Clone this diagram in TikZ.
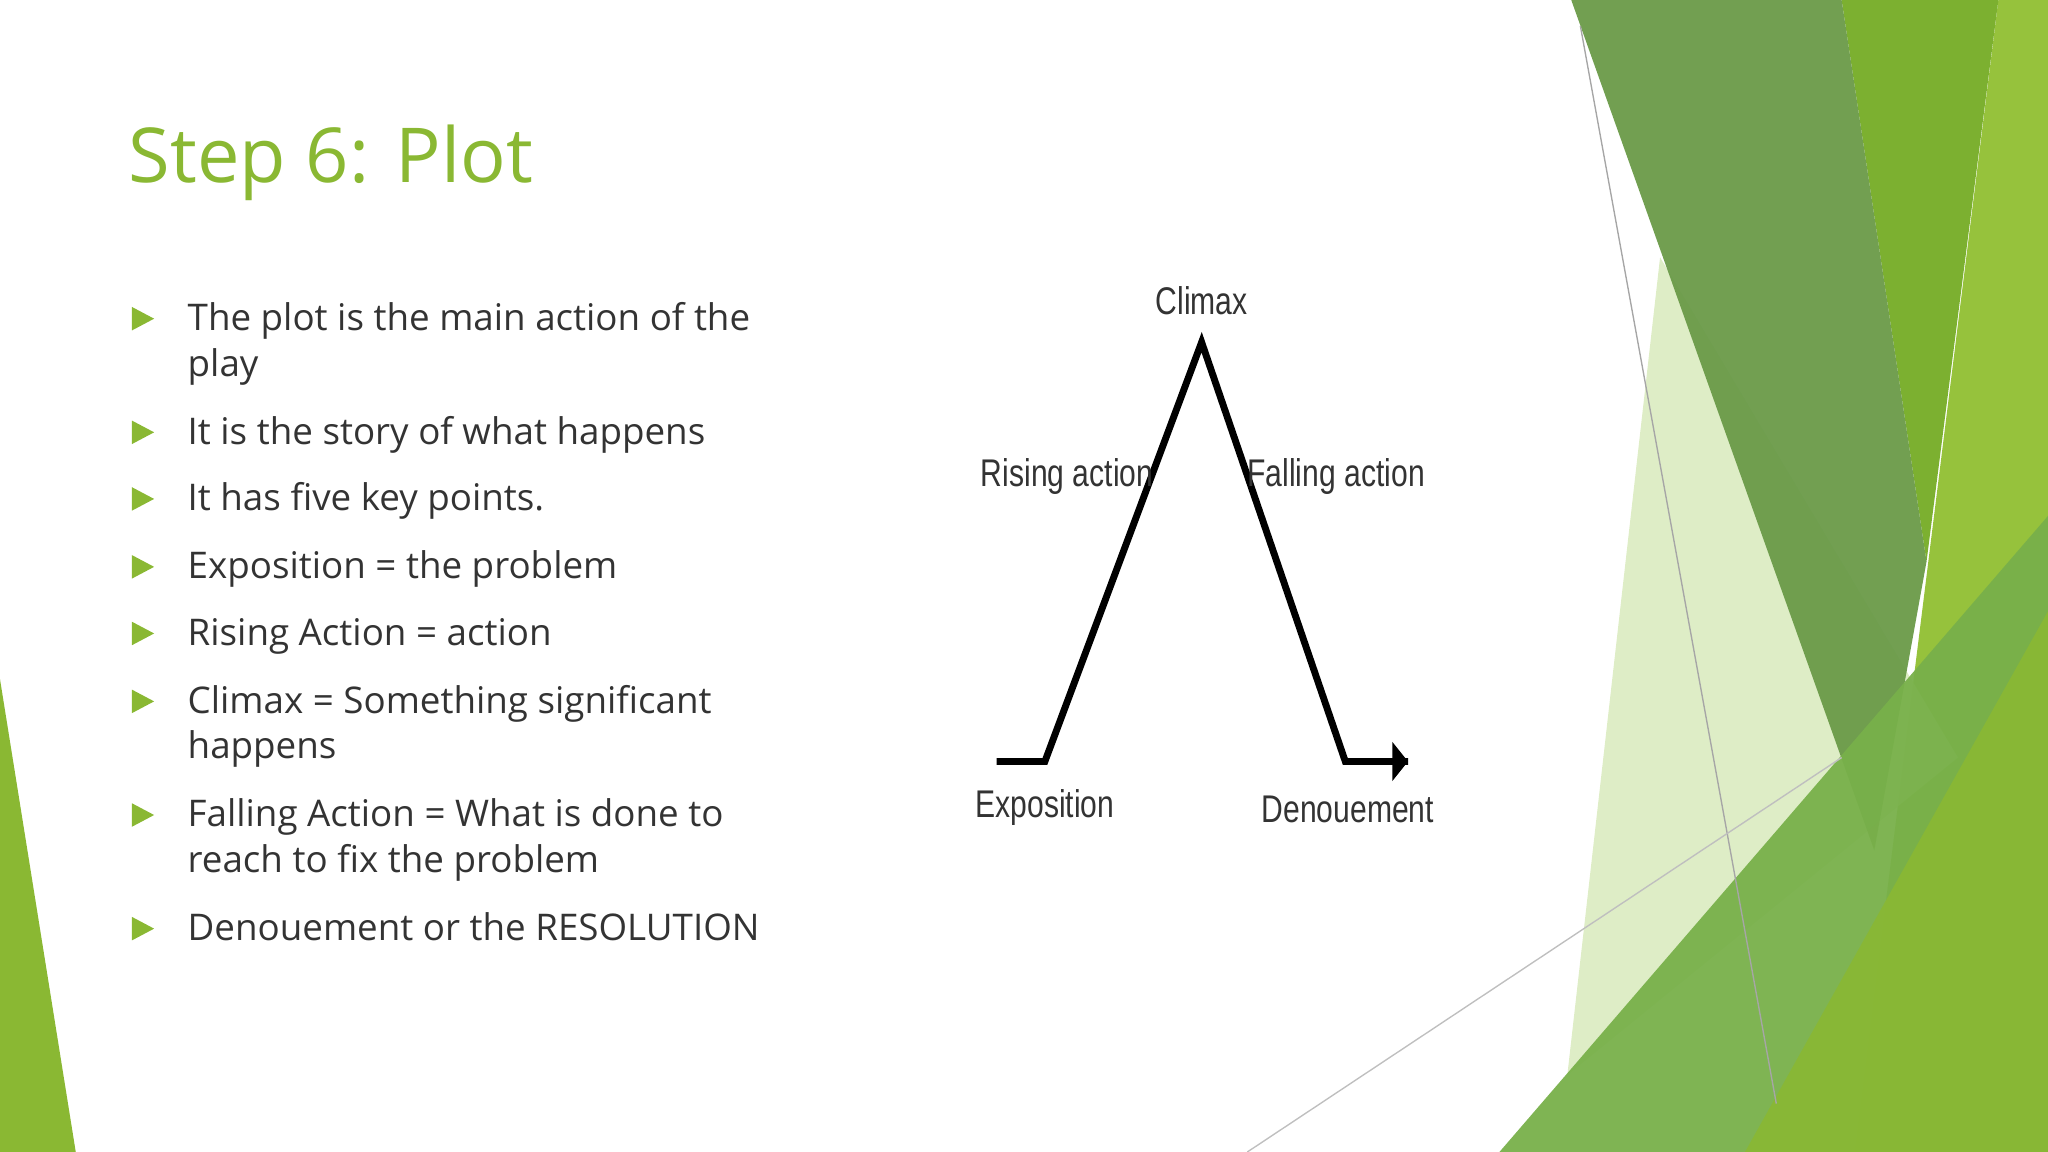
\documentclass[tikz,border=0pt]{standalone}
\usepackage{fontspec}
\setmainfont{Open Sans}
\newfontfamily\lab{Liberation Sans}
\definecolor{tgreen}{HTML}{8AB833}
\definecolor{dkgreen}{HTML}{6A9A48}
\definecolor{mdgreen}{HTML}{7CB030}
\definecolor{ltgreen}{HTML}{96C23C}
\definecolor{bgreen}{HTML}{78B04A}
\definecolor{pale}{HTML}{D6E8B8}
\begin{document}
\begin{tikzpicture}[x=0.01cm,y=-0.01cm,
  bul/.style={anchor=base west,font=\fontsize{8}{10}\selectfont,text=black!80,inner sep=0},
  tri/.style={fill=tgreen},
  lbl/.style={font=\lab\fontsize{8.4}{10}\selectfont,text=black!80,inner sep=0}]
\useasboundingbox (0,0) rectangle (1568,882);
% decorations
\fill[tgreen] (0,520) -- (0,882) -- (58,882) -- cycle;
\fill[ltgreen] (1530,0) -- (1568,0) -- (1568,882) -- (1420,882) -- cycle;
\fill[pale,opacity=0.8] (1271,197) -- (1499,580) -- (1200,823) -- cycle;
\fill[mdgreen] (1410,0) -- (1530,0) -- (1475,430) -- cycle;
\fill[dkgreen,opacity=0.95] (1203,0) -- (1410,0) -- (1475,430) -- (1435,651) -- cycle;
\fill[bgreen,opacity=0.95] (1148,882) -- (1568,395) -- (1568,882) -- cycle;
\fill[tgreen,opacity=0.9] (1336,882) -- (1568,468) -- (1568,882) -- cycle;
\draw[gray!70,line width=0.3pt] (1210,20) -- (1360,845);
\draw[gray!50,line width=0.3pt] (955,882) -- (1410,580);
% title
\node[anchor=base west,inner sep=0,text=tgreen,font=\fontsize{16.5}{20}\selectfont] (title) at (98,140) {Step 6: Plot};
% bullets
\foreach \y/\t [count=\i] in {244/{The plot is the main action of the},279/{play},331/{It is the story of what happens},382/{It has five key points.},434/{Exposition = the problem},485/{Rising Action = action},537/{Climax = Something significant},572/{happens},624/{Falling Action = What is done to},659/{reach to fix the problem},711/{Denouement or the RESOLUTION}}
  \node[bul] (b\i) at (143,\y+9) {\t};
\foreach \y in {244,331,382,434,485,537,624,711}
  \fill[tri] (101,\y-9) -- (118,\y) -- (101,\y+9) -- cycle;
% plot diagram
\coordinate (s) at (763,583);
\coordinate (e) at (800,583);
\coordinate (c) at (920,262);
\coordinate (d) at (1030,583);
\coordinate (f) at (1078,583);
\draw[line width=1.5pt,line join=miter] (s) -- (e) -- (c) -- (d) -- (f);
\fill (f) -- (1066,568) -- (1066,598) -- cycle;
\node[lbl] (lc) at (920,230) {\scalebox{0.78}[1]{Climax}};
\node[lbl] (lr) at (817,365) {\scalebox{0.78}[1]{Rising action}};
\node[lbl] (lf) at (1023,365) {\scalebox{0.78}[1]{Falling action}};
\node[lbl] (le) at (800,618) {\scalebox{0.78}[1]{Exposition}};
\node[lbl] (ld) at (1032,620) {\scalebox{0.78}[1]{Denouement}};
\end{tikzpicture}
\end{document}
